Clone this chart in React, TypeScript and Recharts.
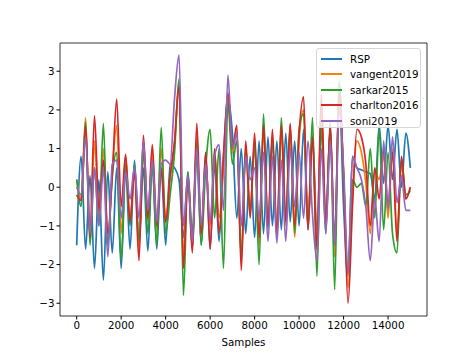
import React from 'react';
import { LineChart, Line, XAxis, YAxis, ReferenceArea } from 'recharts';

// sample positions shared by all series
const samples = [
  0, 200, 400, 600, 800, 1000, 1200, 1400, 1600, 1800,
  2000, 2200, 2400, 2600, 2800, 3000, 3200, 3400, 3600, 3800,
  4000, 4200, 4400, 4600, 4800, 5000, 5200, 5400, 5600, 5800,
  6000, 6200, 6400, 6600, 6800, 7000, 7200, 7400, 7600, 7800,
  8000, 8200, 8400, 8600, 8800, 9000, 9200, 9400, 9600, 9800,
  10000, 10200, 10400, 10600, 10800, 11000, 11200, 11400, 11600, 11800,
  12000, 12200, 12400, 12600, 12800, 13000, 13200, 13400, 13600, 13800,
  14000, 14200, 14400, 14600, 14800, 15000,
];

const rsp = [
  -1.5, 0.8, -1.6, 0.3, -2.1, 0.2, -2.4, 0.4, -1.7, 0.5,
  -2.1, 0.5, -1.6, 0.7, -1.5, 0.5, -1.65, 0.6, -1.6, 0.5,
  -1.5, 0.6, 0.5, 0.2, -1.3, 0.4, -1.6, 0.8, -1.5, 0.9,
  -1.6, 0.6, -1.4, 0.8, 2.3, 1.4, -0.8, 1.0, -1.2, 0.8,
  -1.3, 1.2, -1.2, 1.3, -1.0, 1.2, -1.1, 1.4, -0.9, 1.2,
  -1.0, 1.5, -1.1, 1.4, -1.2, 1.6, -0.8, 1.5, -1.4, 2.5,
  -0.5, -2.3, 0.8, 0.5, 0.45, 0.4, 0.35, -0.3, 1.6, 0.1,
  1.6, 0.2, 1.5, 0.0, 1.4, 0.5,
];

const vangent2019 = [
  0.2, -0.3, 1.8, -1.4, 1.2, -0.8, 1.0, -1.5, 0.4, 1.6,
  -1.2, 0.8, -0.9, 0.5, -1.6, 1.2, -0.9, 0.9, -1.1, 1.0,
  -0.8, 0.2, 1.1, 2.7, -1.8, 0.3, -1.5, 1.3, -1.3, 0.7,
  -1.0, 0.9, -0.8, 0.5, 2.3, 0.9, 1.4, -1.9, 1.0, -0.7,
  1.2, -1.5, 1.5, -1.0, 1.3, -1.3, 1.4, -1.0, 1.4, -1.3,
  1.2, 2.0, -1.0, 1.4, -1.5, 2.0, -1.1, 1.5, -1.8, 2.7,
  0.3, -2.6, -0.2, 1.2, 0.9, 0.1, -1.2, 0.4, 0.2, 0.8,
  -0.8, 1.0, -1.2, 0.6, -0.3, 0.0,
];

const sarkar2015 = [
  0.2, -0.5, 1.7, -1.5, 0.5, -1.0, 1.65, -1.5, 0.3, 0.9,
  -1.9, 0.6, -1.0, 0.6, -1.4, 0.9, -1.2, 0.6, -1.5, 1.55,
  -1.2, -0.2, 0.9, 2.8, -2.8, 0.4, -1.2, 1.2, -1.5, 0.5,
  1.5, -0.8, 1.0, -2.1, 2.2, 0.6, 1.2, -1.8, 1.0, -0.6,
  1.1, -2.0, 1.9, -1.1, 1.2, -1.3, 1.8, -0.8, 1.6, -1.2,
  1.5, 1.9, -1.0, 1.8, -2.3, 1.6, -1.2, 1.7, -2.65, 2.75,
  0.2, -2.2, 0.2, 0.0, 0.1, -0.5, 1.0, -0.8, 1.5, -1.1,
  0.9, -1.2, -1.7, 0.7, -0.2, -0.1,
];

const charlton2016 = [
  -0.2, -0.35, 1.6, -1.3, 1.85, -0.6, 0.7, -1.2, 0.3, 2.28,
  -0.5, 0.85, -0.9, 0.4, -1.9, 1.35, -0.8, 1.1, -1.0, 0.5,
  -0.9, 0.3, 1.2, 2.6, -2.1, 0.3, -1.7, 1.65, -1.2, 0.9,
  -1.6, 1.0, -1.2, 0.8, 2.45, 1.0, 1.6, -2.15, 1.2, -0.8,
  1.4, -1.3, 1.6, -1.0, 1.5, -1.2, 1.6, -0.9, 1.65, -1.0,
  1.4, 2.34, -1.1, 1.3, -1.6, 2.4, -1.0, 1.6, -1.5, 2.4,
  0.3, -3.0, -0.5, 1.5, 1.3, 0.6, -1.0, 0.5, -0.3, 1.0,
  -0.5, 0.9, -1.4, 0.8, -0.3, 0.0,
];

const soni2019 = [
  0.0, -0.2, 1.3, -1.2, 0.5, -1.0, 0.5, -1.8, 0.6, 0.7,
  -0.8, 0.4, -0.3, 0.5, -0.8, 1.2, -0.6, 0.7, -0.9, 0.6,
  0.7, 0.6, 2.3, 3.42, -1.0, 0.3, -1.4, 1.0, -1.0, 0.6,
  -0.9, 0.8, 1.1, -0.6, 2.9, 1.0, 1.4, -1.0, 0.8, 0.2,
  0.5, -0.8, 0.9, -1.4, 0.8, -1.45, 0.7, -1.4, 1.0, -0.5,
  0.9, -0.8, 1.2, -0.7, -1.9, 1.0, -1.2, 1.2, -1.5, 2.0,
  0.5, -2.2, 0.8, 0.5, 0.2, -0.5, -1.9, -0.3, -1.4, 1.2,
  -0.6, 1.3, -0.4, 0.3, -0.6, -0.6,
];

const xTicks = [0, 2000, 4000, 6000, 8000, 10000, 12000, 14000];
const yTicks = [-3, -2, -1, 0, 1, 2, 3];

const series = [
  { key: 'RSP', color: '#1f77b4', values: rsp },
  { key: 'vangent2019', color: '#ff7f0e', values: vangent2019 },
  { key: 'sarkar2015', color: '#2ca02c', values: sarkar2015 },
  { key: 'charlton2016', color: '#d62728', values: charlton2016 },
  { key: 'soni2019', color: '#9467bd', values: soni2019 },
];

const data = samples.map((s, i) => {
  const row: Record<string, number> = { sample: s };
  series.forEach((sr) => {
    row[sr.key] = sr.values[i];
  });
  return row;
});

const font = 'DejaVu Sans, sans-serif';
const minus = (v: number) => String(v).replace('-', '\u2212');

const LegendBox = () => (
  <div
    style={{
      position: 'absolute',
      left: 316,
      top: 48,
      width: 105,
      height: 80,
      boxSizing: 'border-box',
      background: 'rgba(255,255,255,0.8)',
      border: '1px solid #d6d6d6',
      borderRadius: 3,
      padding: '2px 0 0 4px',
      fontFamily: font,
      fontSize: 10.3,
      color: '#000',
    }}
  >
    {series.map((sr) => (
      <div key={sr.key} style={{ display: 'flex', alignItems: 'center', height: 15.5 }}>
        <div style={{ width: 21, height: 1.7, background: sr.color, marginRight: 8 }} />
        <span>{sr.key}</span>
      </div>
    ))}
  </div>
);

export default function App() {
  return (
    <div style={{ position: 'absolute', left: 0, top: 0, width: 474, height: 355, background: '#fff' }}>
      <LineChart
        width={474}
        height={355}
        data={data}
        margin={{ top: 43, right: 47, left: 0, bottom: 0 }}
      >
        <XAxis
          dataKey="sample"
          type="number"
          domain={[-750, 15750]}
          ticks={xTicks}
          height={39}
          axisLine={false}
          tickLine={{ stroke: '#000' }}
          tickSize={3.5}
          tick={{ fill: '#000', fontSize: 10.3, fontFamily: font }}
          label={{ value: 'Samples', position: 'insideBottom', offset: 9, fill: '#000', fontSize: 10.3, fontFamily: font }}
          allowDataOverflow
        />
        <YAxis
          type="number"
          domain={[-3.33, 3.73]}
          ticks={yTicks}
          width={60}
          axisLine={false}
          tickLine={{ stroke: '#000' }}
          tickSize={3.5}
          tickFormatter={minus}
          tick={{ fill: '#000', fontSize: 10.3, fontFamily: font }}
          allowDataOverflow
        />
        {series.map((sr) => (
          <Line
            key={sr.key}
            type="monotone"
            dataKey={sr.key}
            stroke={sr.color}
            strokeWidth={1.7}
            dot={false}
            isAnimationActive={false}
          />
        ))}
        <ReferenceArea
          x1={-750}
          x2={15750}
          y1={-3.33}
          y2={3.73}
          fill="none"
          stroke="#000"
          strokeWidth={0.8}
          ifOverflow="extendDomain"
        />
      </LineChart>
      <LegendBox />
    </div>
  );
}
